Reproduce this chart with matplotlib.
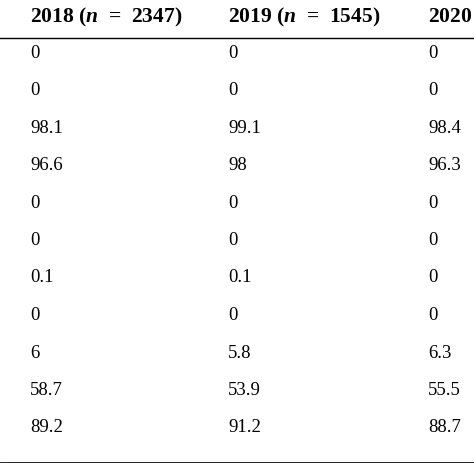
import matplotlib
matplotlib.use('Agg')
import matplotlib.pyplot as plt

plt.rcParams['font.family'] = 'Liberation Serif'
plt.rcParams['mathtext.fontset'] = 'custom'
plt.rcParams['mathtext.bfit'] = 'Liberation Serif:italic:bold'
plt.rcParams['mathtext.it'] = 'Liberation Serif:italic'

headers = [r'2018 ($\mathbfit{n}$  =  2347)', r'2019 ($\mathbfit{n}$  =  1545)', r'2020 ($\mathbfit{n}$  =  1600)']
col2018 = ['0', '0', '98.1', '96.6', '0', '0', '0.1', '0', '6', '58.7', '89.2']
col2019 = ['0', '0', '99.1', '98', '0', '0', '0.1', '0', '5.8', '53.9', '91.2']
col2020 = ['0', '0', '98.4', '96.3', '0', '0', '0', '0', '6.3', '55.5', '88.7']
columns = [col2018, col2019, col2020]

W = H = 474
fig = plt.figure(figsize=(W / 100, H / 100), dpi=100)
ax = fig.add_axes([0, 0, 1, 1])
ax.set_xlim(0, W)
ax.set_ylim(H, 0)
ax.axis('off')

xs = [30, 228, 428]
for x, h in zip(xs, headers):
    # the third header runs past the right edge, as in the reference
    ax.text(x, 17, h, fontsize=15.5, fontweight='bold', va='center', ha='left', clip_on=True)
ax.plot([0, W], [38, 38], color='black', lw=1)

for x, col in zip(xs, columns):
    for i, v in enumerate(col):
        ax.text(x, 53 + i * 37.5, v, fontsize=13.5, va='center', ha='left')

ax.plot([0, W], [462, 462], color='black', lw=0.6)
fig.savefig('out.png', dpi=100)
